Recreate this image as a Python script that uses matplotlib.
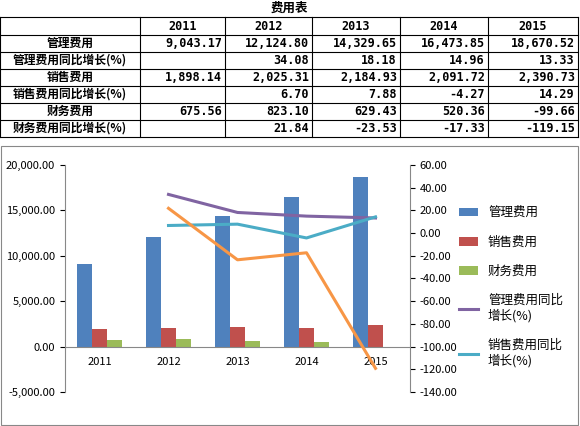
import numpy as np
import matplotlib.pyplot as plt
from matplotlib.patches import Rectangle

plt.rcParams['font.family'] = ['Noto Sans CJK SC', 'DejaVu Sans']

## data

years = ['2011', '2012', '2013', '2014', '2015']
row_names = ['管理费用', '管理费用同比增长(%)', '销售费用', '销售费用同比增长(%)',
             '财务费用', '财务费用同比增长(%)']
guanli = [9043.17, 12124.80, 14329.65, 16473.85, 18670.52]
guanli_g = [None, 34.08, 18.18, 14.96, 13.33]
xiaoshou = [1898.14, 2025.31, 2184.93, 2091.72, 2390.73]
xiaoshou_g = [None, 6.70, 7.88, -4.27, 14.29]
caiwu = [675.56, 823.10, 629.43, 520.36, -99.66]
caiwu_g = [None, 21.84, -23.53, -17.33, -119.15]

c_blue, c_red, c_green = '#4F81BD', '#C0504D', '#9BBB59'
c_purple, c_teal, c_orange = '#8064A2', '#4BACC6', '#F79646'

fig = plt.figure(figsize=(5.8, 4.26), dpi=100)
W, H = 580, 426

## table

def fx(x): return x / W
def fy(y): return 1 - y / H

tab = fig.add_axes([0, 0, 1, 1], zorder=-1)
tab.set_xlim(0, W); tab.set_ylim(H, 0); tab.axis('off')

col_x = [0, 140, 225, 312, 400, 488, 578]
row_y = [0, 17, 35, 52, 69, 86, 103, 120, 137]
tab.text(289, 8.5, '费用表', ha='center', va='center', fontsize=9, fontweight='bold')
for y in row_y[1:]:
    tab.plot([0, 578], [y, y], color='black', lw=0.8)
for x in col_x:
    tab.plot([x, x], [17, 137], color='black', lw=0.8)
for j, yr in enumerate(years):
    tab.text((col_x[j+1] + col_x[j+2]) / 2, 26, yr, ha='center', va='center',
             fontsize=8.5, fontweight='bold', family='DejaVu Sans Mono')
rows = [guanli, guanli_g, xiaoshou, xiaoshou_g, caiwu, caiwu_g]
for i, (name, vals) in enumerate(zip(row_names, rows)):
    yc = (row_y[i+2] + row_y[i+3]) / 2
    tab.text(70, yc, name, ha='center', va='center', fontsize=8.5, fontweight='bold')
    for j, v in enumerate(vals):
        if v is None:
            continue
        tab.text(col_x[j+2] - 3, yc, f'{v:,.2f}', ha='right', va='center',
                 fontsize=8.5, fontweight='bold', family='DejaVu Sans Mono')

tab.add_patch(Rectangle((1, 146), 577, 279, fill=False, ec='#888888', lw=0.8))

## chart

ax = fig.add_axes([fx(65), fy(392), fx(410) - fx(65), fy(165) - fy(392)])
x = np.arange(len(years))
w = 0.22
ax.bar(x - w, guanli, w, color=c_blue, label='管理费用')
ax.bar(x, xiaoshou, w, color=c_red, label='销售费用')
ax.bar(x + w, caiwu, w, color=c_green, label='财务费用')
ax.set_ylim(-5000, 20000)
ax.set_xlim(-0.5, 4.5)
ax.set_yticks(np.arange(-5000, 20001, 5000))
ax.set_yticklabels([f'{v:,.2f}' for v in np.arange(-5000, 20001, 5000)], fontsize=8)
ax.axhline(0, color='#888888', lw=0.8)
ax.set_xticks([])
for xi, yr in zip(x, years):
    ax.text(xi, -1100, yr, ha='center', va='top', fontsize=8)
for s in ['top', 'right', 'bottom']:
    ax.spines[s].set_visible(False)
ax.spines['left'].set_color('#888888')
ax.patch.set_alpha(0)

ax2 = ax.twinx()
ax2.plot(x[1:], guanli_g[1:], color=c_purple, lw=2.2, label='管理费用同比\n增长(%)')
ax2.plot(x[1:], xiaoshou_g[1:], color=c_teal, lw=2.2, label='销售费用同比\n增长(%)')
ax2.plot(x[1:], caiwu_g[1:], color=c_orange, lw=2.2)
ax2.set_ylim(-140, 60)
ax2.set_yticks(np.arange(-140, 61, 20))
ax2.set_yticklabels([f'{v:.2f}' for v in np.arange(-140, 61, 20)], fontsize=8)
for s in ['top', 'left', 'bottom']:
    ax2.spines[s].set_visible(False)
ax2.spines['right'].set_color('#888888')

h1, l1 = ax.get_legend_handles_labels()
h2, l2 = ax2.get_legend_handles_labels()
fig.legend(h1 + h2, l1 + l2, loc='upper left', bbox_to_anchor=(fx(448), fy(195)),
           frameon=False, fontsize=9, labelspacing=1.3, handlelength=1.5)

fig.savefig('out.png', dpi=100)
